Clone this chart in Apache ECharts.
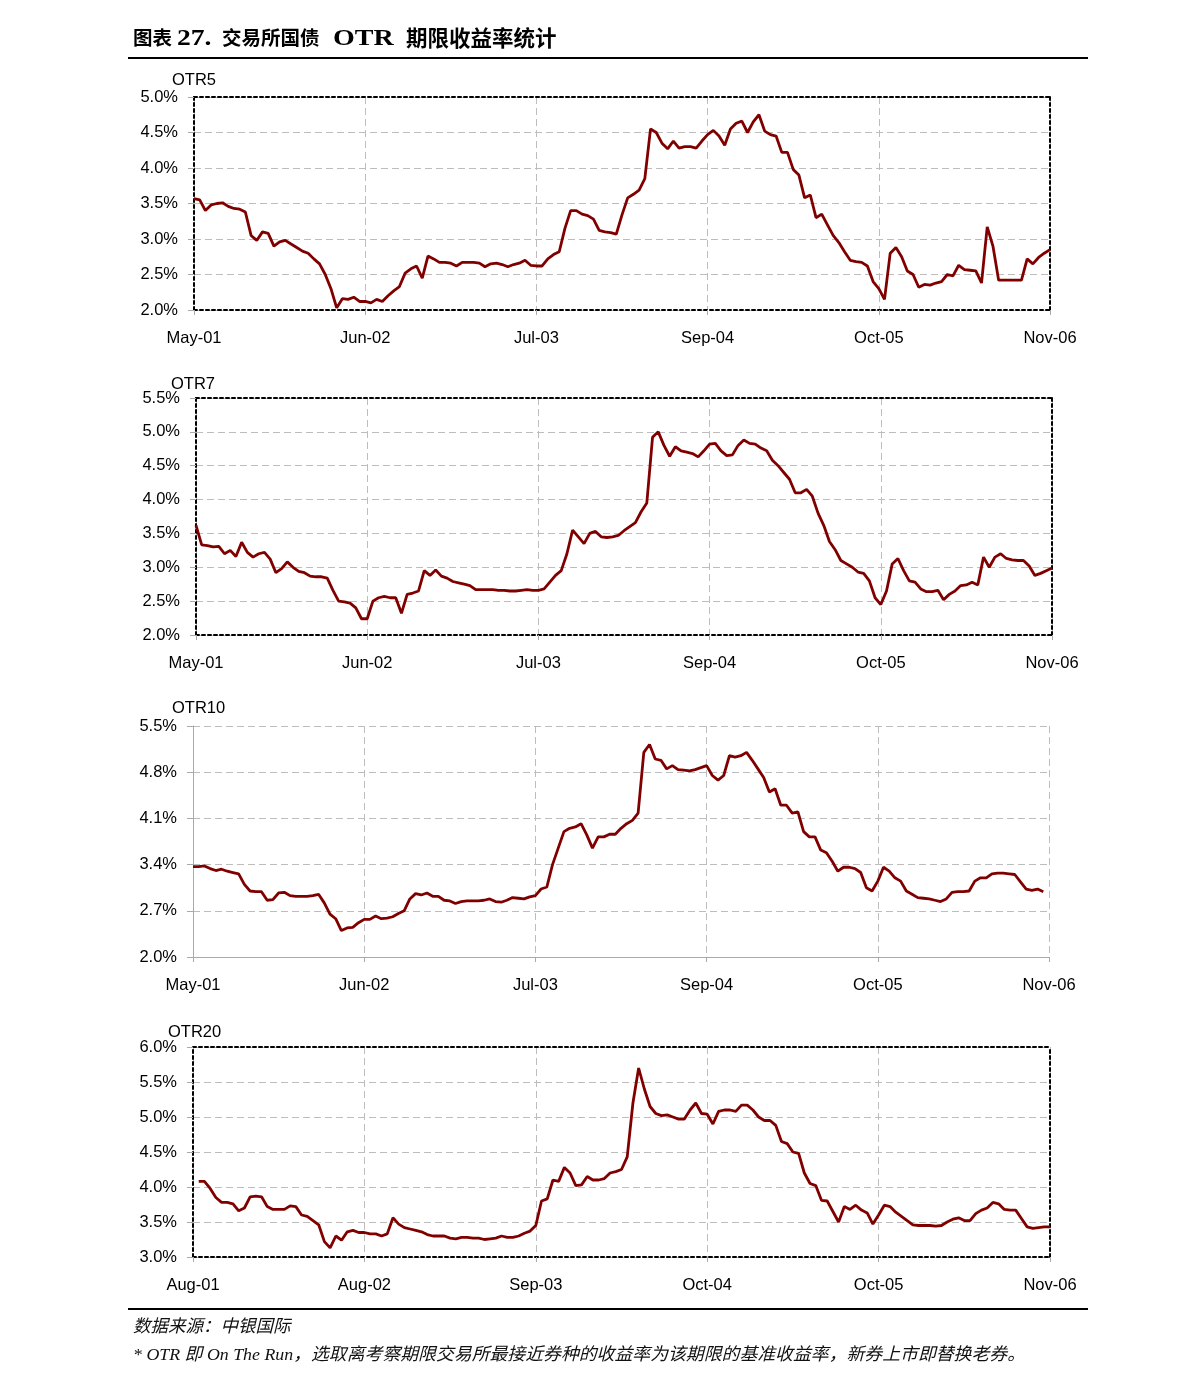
<!DOCTYPE html>
<html><head><meta charset="utf-8">
<script src="https://cdn.jsdelivr.net/npm/echarts@6/dist/echarts.min.js"></script>
<style>html,body{margin:0;padding:0;background:#fff}#c{width:1190px;height:1385px}</style>
</head><body><div id="c"></div>
<script>
// ---- tick labels ----
const tickLabels = ['May-01','Jun-02','Jul-03','Sep-04','Oct-05','Nov-06'];
const tickLabels20 = ['Aug-01','Aug-02','Sep-03','Oct-04','Oct-05','Nov-06'];

// ---- series values (yield, %) ----
const otr5 = [3.57,3.55,3.40,3.48,3.50,3.51,3.46,3.43,3.42,3.38,
  3.05,2.98,3.10,3.08,2.90,2.96,2.98,2.93,2.88,2.83,
  2.80,2.72,2.65,2.50,2.30,2.03,2.16,2.15,2.18,2.12,
  2.12,2.10,2.15,2.12,2.20,2.27,2.33,2.52,2.58,2.62,
  2.45,2.76,2.72,2.67,2.67,2.66,2.62,2.67,2.67,2.67,
  2.66,2.61,2.65,2.66,2.64,2.61,2.64,2.66,2.70,2.63,
  2.62,2.62,2.72,2.78,2.82,3.15,3.40,3.40,3.35,3.33,
  3.28,3.12,3.10,3.09,3.07,3.34,3.58,3.63,3.69,3.85,
  4.55,4.50,4.35,4.27,4.38,4.28,4.30,4.30,4.28,4.38,
  4.47,4.53,4.45,4.32,4.55,4.63,4.66,4.50,4.65,4.75,
  4.52,4.47,4.45,4.22,4.22,3.98,3.90,3.58,3.62,3.30,
  3.35,3.20,3.05,2.95,2.82,2.70,2.68,2.67,2.62,2.40,
  2.30,2.15,2.80,2.88,2.75,2.55,2.50,2.32,2.36,2.35,
  2.38,2.40,2.50,2.48,2.63,2.57,2.56,2.55,2.38,3.17,
  2.90,2.42,2.42,2.42,2.42,2.42,2.72,2.65,2.74,2.80,
  2.85];
const otr7 = [3.62,3.33,3.32,3.30,3.31,3.20,3.25,3.16,3.37,3.22,
  3.15,3.20,3.22,3.12,2.92,2.98,3.08,3.00,2.94,2.92,
  2.87,2.86,2.86,2.84,2.66,2.50,2.49,2.47,2.40,2.24,
  2.24,2.50,2.55,2.57,2.55,2.55,2.32,2.60,2.62,2.65,
  2.95,2.88,2.96,2.87,2.84,2.79,2.77,2.75,2.73,2.67,
  2.67,2.67,2.67,2.66,2.66,2.65,2.65,2.66,2.67,2.66,
  2.66,2.68,2.78,2.88,2.95,3.20,3.55,3.45,3.35,3.50,
  3.53,3.45,3.44,3.45,3.47,3.54,3.60,3.66,3.82,3.95,
  4.92,5.00,4.80,4.64,4.78,4.72,4.70,4.68,4.63,4.72,
  4.82,4.83,4.72,4.65,4.66,4.80,4.88,4.83,4.82,4.76,
  4.72,4.58,4.50,4.40,4.30,4.10,4.10,4.15,4.05,3.80,
  3.62,3.38,3.26,3.10,3.05,3.00,2.93,2.91,2.80,2.55,
  2.45,2.65,3.05,3.13,2.95,2.80,2.78,2.68,2.64,2.64,
  2.66,2.52,2.60,2.65,2.73,2.74,2.78,2.74,3.15,3.00,
  3.15,3.20,3.13,3.11,3.10,3.10,3.02,2.88,2.91,2.95,
  2.99];
const otr10 = [3.37,3.37,3.38,3.34,3.31,3.33,3.30,3.28,3.26,3.10,
  3.00,2.99,2.99,2.86,2.87,2.97,2.98,2.93,2.92,2.92,
  2.92,2.93,2.95,2.82,2.65,2.58,2.40,2.44,2.45,2.52,
  2.57,2.57,2.62,2.58,2.59,2.61,2.66,2.70,2.88,2.96,
  2.94,2.97,2.92,2.92,2.86,2.85,2.81,2.84,2.85,2.85,
  2.85,2.86,2.88,2.84,2.83,2.86,2.90,2.89,2.88,2.91,
  2.93,3.03,3.06,3.40,3.65,3.90,3.95,3.97,4.02,3.85,
  3.65,3.82,3.82,3.86,3.86,3.95,4.02,4.07,4.18,5.10,
  5.22,5.00,4.98,4.85,4.90,4.84,4.83,4.82,4.84,4.87,
  4.90,4.75,4.68,4.75,5.05,5.03,5.05,5.10,4.98,4.85,
  4.72,4.50,4.55,4.30,4.30,4.18,4.20,3.90,3.82,3.82,
  3.62,3.58,3.45,3.30,3.36,3.36,3.34,3.28,3.05,3.00,
  3.15,3.36,3.30,3.20,3.15,3.00,2.95,2.90,2.89,2.88,
  2.86,2.84,2.88,2.98,2.99,2.99,3.00,3.15,3.20,3.20,
  3.26,3.27,3.27,3.26,3.25,3.14,3.03,3.01,3.03,2.99,
  null];
const otr20 = [null,4.08,4.08,3.98,3.85,3.78,3.78,3.76,3.66,3.70,
  3.86,3.87,3.86,3.72,3.68,3.68,3.68,3.73,3.72,3.60,
  3.58,3.52,3.46,3.22,3.13,3.30,3.24,3.36,3.38,3.35,
  3.35,3.33,3.33,3.30,3.33,3.56,3.47,3.42,3.40,3.38,
  3.36,3.32,3.30,3.30,3.30,3.27,3.26,3.28,3.28,3.27,
  3.27,3.25,3.26,3.27,3.30,3.28,3.28,3.30,3.34,3.37,
  3.45,3.80,3.83,4.10,4.08,4.28,4.20,4.02,4.03,4.15,
  4.10,4.10,4.12,4.20,4.22,4.25,4.43,5.20,5.70,5.40,
  5.15,5.05,5.02,5.03,5.00,4.97,4.97,5.10,5.20,5.05,
  5.04,4.90,5.08,5.10,5.10,5.08,5.17,5.17,5.10,5.00,
  4.95,4.95,4.88,4.65,4.62,4.50,4.48,4.20,4.05,4.02,
  3.81,3.80,3.65,3.50,3.72,3.68,3.74,3.67,3.63,3.47,
  3.60,3.74,3.72,3.64,3.58,3.52,3.46,3.45,3.45,3.45,
  3.44,3.45,3.50,3.54,3.56,3.52,3.52,3.62,3.67,3.70,
  3.78,3.76,3.68,3.67,3.67,3.55,3.43,3.41,3.42,3.43,
  3.43];

// period index categories; a date label every STEP periods
const STEP = 30;
const categories = otr5.map((_, i) => String(i));

const panels = [
  {name:'OTR5',  data:otr5,  ticks:tickLabels,   min:2, max:5,   interval:0.5, frame:true,
   left:194, top:97,  width:856, height:213, tx:172, ty:72},
  {name:'OTR7',  data:otr7,  ticks:tickLabels,   min:2, max:5.5, interval:0.5, frame:true,
   left:196, top:398, width:856, height:237, tx:171, ty:376},
  {name:'OTR10', data:otr10, ticks:tickLabels,   min:2, max:5.5, interval:0.7, frame:false,
   left:193, top:726, width:856, height:231, tx:172, ty:700},
  {name:'OTR20', data:otr20, ticks:tickLabels20, min:3, max:6,   interval:0.5, frame:true,
   left:193, top:1047, width:857, height:210, tx:168, ty:1024}
];

const FONT = '"Liberation Sans", Arial, sans-serif';
const FS = 16.5;
const dotted = {color:'#000', type:[3,3], width:2};
const gridDash = {color:'#bdbdbd', type:[7,4], width:1};

const grid = [], xAxis = [], yAxis = [], series = [], title = [];
panels.forEach((p, gi) => {
  grid.push({left:p.left, top:p.top, width:p.width, height:p.height, containLabel:false, outerBoundsMode:'none'});
  title.push({text:p.name, left:p.tx, top:p.ty, padding:0,
    textStyle:{fontFamily:FONT, fontSize:FS, fontWeight:'normal', color:'#000'}});
  const xi = xAxis.length;
  xAxis.push({gridIndex:gi, type:'category', data:categories, boundaryGap:false,
    axisLine:{show:true, lineStyle: p.frame ? dotted : {color:'#aaa', width:1}},
    axisTick:{show:true, interval:STEP-1, length:5, lineStyle:{color:'#aaa'}},
    axisLabel:{interval:STEP-1, margin:20, fontFamily:FONT, fontSize:FS, color:'#000',
      formatter:(v, idx) => p.ticks[Math.round(idx/STEP)] || ''},
    splitLine:{show:true, interval:STEP-1, lineStyle:gridDash}});
  const yi = yAxis.length;
  yAxis.push({gridIndex:gi, type:'value', min:p.min, max:p.max, interval:p.interval,
    axisLine:{show:true, lineStyle: p.frame ? dotted : {color:'#aaa', width:1}},
    axisTick:{show:true, length:6, lineStyle:{color:'#aaa'}},
    axisLabel:{margin:16, fontFamily:FONT, fontSize:FS, color:'#000',
      formatter:v => v.toFixed(1) + '%'},
    splitLine:{show:true, lineStyle:gridDash}});
  if (p.frame) {
    xAxis.push({gridIndex:gi, type:'category', data:categories, boundaryGap:false, position:'top',
      axisLine:{show:true, lineStyle:dotted}, axisTick:{show:false}, axisLabel:{show:false}, splitLine:{show:false}});
    yAxis.push({gridIndex:gi, type:'value', min:p.min, max:p.max, interval:p.interval, position:'right',
      axisLine:{show:true, lineStyle:dotted}, axisTick:{show:false}, axisLabel:{show:false}, splitLine:{show:false}});
  }
  series.push({name:p.name, type:'line', xAxisIndex:xi, yAxisIndex:yi, data:p.data,
    symbol:'none', lineStyle:{color:'#800000', width:2.8}, itemStyle:{color:'#800000'}, z:5});
});

const CJK = '"Noto Sans CJK SC", sans-serif';
const graphic = [
  {type:'text', x:133, y:38, style:{text:'图表', font:'bold 19.5px ' + CJK, fill:'#000', align:'left', verticalAlign:'middle'}},
  {type:'text', x:177, y:39, scaleX:1.2, style:{text:'27.', font:'bold 23px "Liberation Serif", serif', fill:'#000', align:'left', verticalAlign:'middle'}},
  {type:'text', x:222, y:38, style:{text:'交易所国债', font:'bold 19.5px ' + CJK, fill:'#000', align:'left', verticalAlign:'middle'}},
  {type:'text', x:333, y:39, scaleX:1.22, style:{text:'OTR', font:'bold 23px "Liberation Serif", serif', fill:'#000', align:'left', verticalAlign:'middle'}},
  {type:'text', x:406, y:38, style:{text:'期限收益率统计', font:'bold 21.5px ' + CJK, fill:'#000', align:'left', verticalAlign:'middle'}},
  {type:'line', shape:{x1:128, y1:58, x2:1088, y2:58}, style:{stroke:'#000', lineWidth:2}},
  {type:'line', shape:{x1:128, y1:1309, x2:1088, y2:1309}, style:{stroke:'#000', lineWidth:2}},
  {type:'text', x:133, y:1327, style:{text:'数据来源：中银国际', font:'italic 17.5px "Liberation Serif", ' + CJK, fill:'#111', align:'left', verticalAlign:'middle'}},
  {type:'text', x:133, y:1355, scaleX:1.02, style:{text:'* OTR 即 On The Run，选取离考察期限交易所最接近券种的收益率为该期限的基准收益率，新券上市即替换老券。', font:'italic 17.5px "Liberation Serif", ' + CJK, fill:'#111', align:'left', verticalAlign:'middle'}}
];

const chart = echarts.init(document.getElementById('c'), null, {renderer:'canvas', width:1190, height:1385});
chart.setOption({animation:false, backgroundColor:'#fff', title, grid, xAxis, yAxis, series, graphic});
</script>
</body></html>
